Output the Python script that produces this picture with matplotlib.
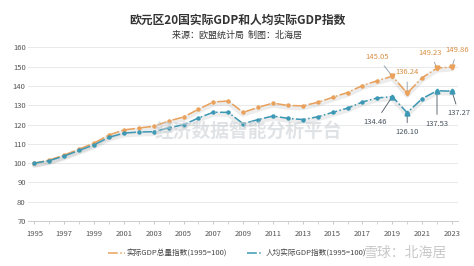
import matplotlib
matplotlib.use("Agg")
import matplotlib.pyplot as plt
import matplotlib.patheffects as pe
from matplotlib.lines import Line2D

plt.rcParams['font.family'] = ['Noto Sans CJK SC', 'DejaVu Sans']

years = list(range(1995, 2024))
# 实际GDP总量指数 (1995=100)
gdp = [100.0, 101.6, 104.2, 107.3, 110.4, 114.6, 117.2, 118.2, 119.1, 121.8,
       123.9, 127.9, 131.7, 132.2, 126.3, 128.9, 131.1, 129.9, 129.7, 131.5,
       134.1, 136.6, 140.2, 142.7, 145.05, 136.24, 144.2, 149.23, 149.86]
# 人均实际GDP指数 (1995=100)
gdp_pc = [100.0, 101.3, 103.7, 106.6, 109.5, 113.4, 115.6, 116.1, 116.3, 118.3,
          119.9, 123.4, 126.4, 126.3, 120.4, 122.6, 124.4, 123.2, 122.6, 124.0,
          126.3, 128.5, 131.7, 133.8, 134.46, 126.10, 133.4, 137.53, 137.27]

c_gdp = "#E9A15C"
c_pc = "#3C98B4"

fig = plt.figure(figsize=(4.74, 2.66), dpi=100)
ax = fig.add_axes([0.06, 0.169, 0.906, 0.653])

# soft shadow under each line
for vals, c in [(gdp, c_gdp), (gdp_pc, c_pc)]:
    ax.plot(years, vals, color=c, linewidth=3.2, alpha=0.22, solid_capstyle="round",
            path_effects=[pe.SimpleLineShadow(offset=(0, -1.5), shadow_color="gray", alpha=0.15, linewidth=3.5)],
            zorder=2)
ax.plot(years, gdp, color=c_gdp, linestyle="-.", linewidth=1.1, marker="o", markersize=2.2, zorder=3)
ax.plot(years, gdp_pc, color=c_pc, linestyle="-.", linewidth=1.1, marker="o", markersize=2.2, zorder=3)

# labelled points: year index, text offset in points
ann_gdp = [(24, (-11, 14)), (25, (0, 15)), (27, (-5, 11)), (28, (4, 12))]
ann_pc = [(24, (-12, -18)), (25, (0, -14)), (27, (0, -24)), (28, (5, -16))]
for i, off in ann_gdp:
    ax.plot(years[i], gdp[i], marker="v", color=c_gdp, markersize=3.5, zorder=4)
    ax.annotate(f"{gdp[i]:.2f}", (years[i], gdp[i]), xytext=off, textcoords="offset points",
                ha="center", va="center", fontsize=5.5, color="#D98F45",
                arrowprops=dict(arrowstyle="-", color="#8a9aa8", lw=0.6, shrinkA=2, shrinkB=1))
for i, off in ann_pc:
    ax.plot(years[i], gdp_pc[i], marker="^", color=c_pc, markersize=3.5, zorder=4)
    ax.annotate(f"{gdp_pc[i]:.2f}", (years[i], gdp_pc[i]), xytext=off, textcoords="offset points",
                ha="center", va="center", fontsize=5.5, color="#4a5560",
                arrowprops=dict(arrowstyle="-", color="#4a5560", lw=0.6, shrinkA=2, shrinkB=1))

ax.set_xlim(1994.6, 2023.4)
ax.set_ylim(70, 160)
ax.set_yticks(range(70, 161, 10))
ax.set_xticks(range(1995, 2024, 2))
ax.set_xticks(years, minor=True)
ax.grid(axis="y", color="#e9e9e9", linewidth=0.7)
ax.set_axisbelow(True)
for s in ["top", "right", "left"]:
    ax.spines[s].set_visible(False)
ax.spines["bottom"].set_color("#cccccc")
ax.spines["bottom"].set_linewidth(0.7)
ax.tick_params(axis="y", length=0, labelsize=5.5, labelcolor="#555555", pad=2)
ax.tick_params(axis="x", which="both", length=2.5, color="#cccccc", labelsize=5.5,
               labelcolor="#555555", pad=4)

fig.text(0.5, 0.925, "欧元区20国实际GDP和人均实际GDP指数", ha="center", va="center",
         fontsize=8.5, fontweight="bold", color="#333333")
fig.text(0.5, 0.868, "来源：欧盟统计局  制图：北海居", ha="center", va="center",
         fontsize=6.5, color="#333333")

# watermarks
fig.text(0.525, 0.505, "经济数据智能分析平台", ha="center", va="center", fontsize=13.5,
         fontweight="bold", color="#c8cdd2", alpha=0.55, zorder=5)
fig.text(0.855, 0.048, "雪球：北海居", ha="center", va="center", fontsize=10,
         color="#c8c8c8", zorder=5)

handles = [Line2D([], [], color=c_gdp, linestyle="-.", linewidth=1.1),
           Line2D([], [], color=c_pc, linestyle="-.", linewidth=1.1)]
labels = ["实际GDP总量指数(1995=100)", "人均实际GDP指数(1995=100)"]
fig.legend(handles, labels, loc="center", bbox_to_anchor=(0.5, 0.048), ncol=2, frameon=False,
           fontsize=5.5, handlelength=2.2, handletextpad=0.3, columnspacing=2.5, labelcolor="#444444")

fig.savefig("out.png", dpi=100, facecolor="white")
